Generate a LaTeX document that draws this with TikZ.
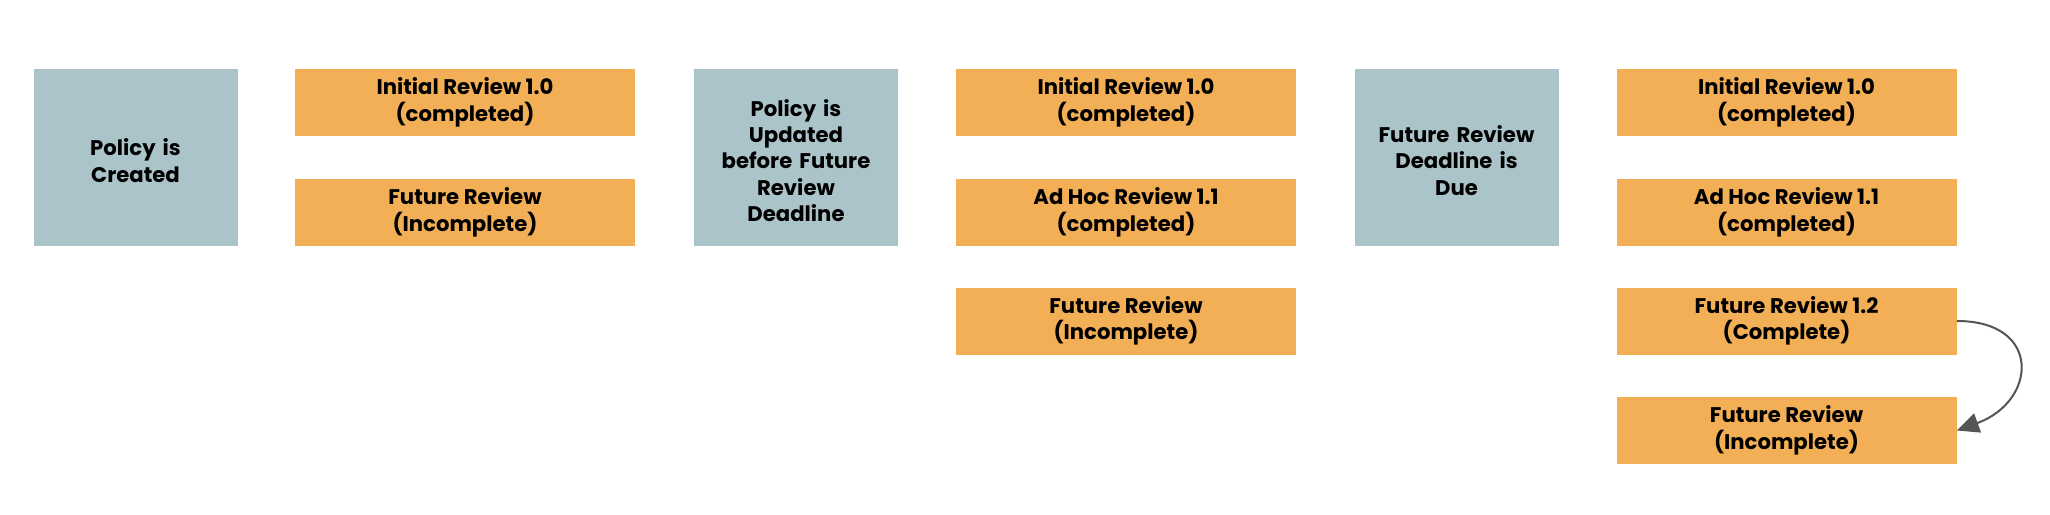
\documentclass[tikz,border=0pt]{standalone}
\usepackage{fontspec}
\setmainfont{Poppins}
\usetikzlibrary{arrows.meta}
\definecolor{slate}{RGB}{170, 196, 201}
\definecolor{sunflower}{RGB}{243, 175, 85}
\definecolor{graphite}{RGB}{85, 85, 85}
\tikzset{
    stagebox/.style={fill=slate, minimum width=102pt, minimum height=88.5pt, align=center, text width=92pt, inner sep=0pt, font=\fontsize{10.6}{13.2}\selectfont\bfseries, execute at begin node={\rule{0pt}{11.5pt}}},
    reviewbox/.style={fill=sunflower, minimum width=170pt, minimum height=33.5pt, align=center, inner sep=0pt, font=\fontsize{10.6}{13.2}\selectfont\bfseries, execute at begin node={\rule{0pt}{12.5pt}}},
    flow/.style={draw=graphite, line width=1pt, -{Triangle[length=11pt, width=10pt]}}
}
\begin{document}
\begin{tikzpicture}[x=0.5pt, y=-0.5pt]
    \fill[white] (0,0) rectangle (2050,514);
    \useasboundingbox (0,0) rectangle (2050,514);
    % stages
    \node[stagebox] (created)  at ( 135.5, 157.5) {Policy is\\Created};
    \node[stagebox] (updated)  at ( 796.0, 157.5) {Policy is\\Updated\\before Future\\Review\\Deadline};
    \node[stagebox] (due)      at (1456.5, 157.5) {Future Review\\Deadline is\\Due};
    % reviews after creation
    \node[reviewbox] (initA)   at ( 465.0, 102.5) {Initial Review 1.0\\(completed)};
    \node[reviewbox] (futA)    at ( 465.0, 212.5) {Future Review\\(Incomplete)};
    % reviews after update
    \node[reviewbox] (initB)   at (1126.0, 102.5) {Initial Review 1.0\\(completed)};
    \node[reviewbox] (adhocB)  at (1126.0, 212.5) {Ad Hoc Review 1.1\\(completed)};
    \node[reviewbox] (futB)    at (1126.0, 321.0) {Future Review\\(Incomplete)};
    % reviews at deadline
    \node[reviewbox] (initC)   at (1786.5, 102.5) {Initial Review 1.0\\(completed)};
    \node[reviewbox] (adhocC)  at (1786.5, 212.5) {Ad Hoc Review 1.1\\(completed)};
    \node[reviewbox] (doneC)   at (1786.5, 321.0) {Future Review 1.2\\(Complete)};
    \node[reviewbox] (futC)    at (1786.5, 430.5) {Future Review\\(Incomplete)};
    \draw[flow] (doneC.east) to[out=0, in=20, looseness=2] (futC.east);
\end{tikzpicture}
\end{document}
